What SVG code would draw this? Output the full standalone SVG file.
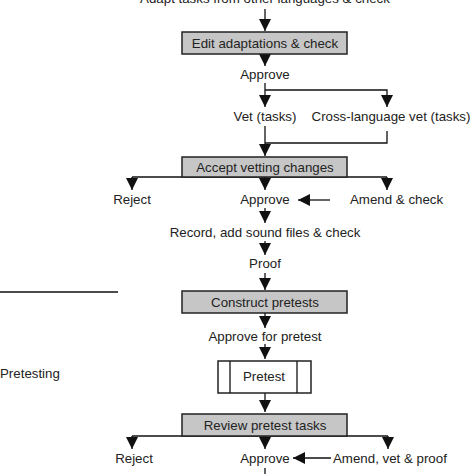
<svg xmlns="http://www.w3.org/2000/svg" width="474" height="474" viewBox="0 0 474 474">
<defs>
<marker id="ah" markerUnits="userSpaceOnUse" markerWidth="12" markerHeight="12" viewBox="0 0 12 12" refX="12" refY="6" orient="auto">
<path d="M0,0 L12,6 L0,12 z" fill="#111"/>
</marker>
</defs>
<style>
text{font-family:"Liberation Sans",Arial,sans-serif;font-size:13.3px;fill:#222}
.c{text-anchor:middle}
.box{fill:#c6c6c6;stroke:#222;stroke-width:1.5}
.wbox{fill:#fff;stroke:#222;stroke-width:1.5}
.ln{fill:none;stroke:#111;stroke-width:1.3}
.ar{fill:none;stroke:#111;stroke-width:1.3;marker-end:url(#ah)}
</style>
<rect width="474" height="474" fill="#fff"/>
<g id="connectors">
<line class="ar" x1="265" y1="9" x2="265" y2="31"/>
<line class="ar" x1="265" y1="54" x2="265" y2="66"/>
<line class="ar" x1="265" y1="83" x2="265" y2="107"/>
<path class="ar" d="M265,90 H387 V107"/>
<path class="ln" d="M387,131 V143 H265"/>
<line class="ar" x1="265" y1="126" x2="265" y2="156"/>
<path class="ln" d="M132,177 H387"/>
<line class="ar" x1="132" y1="177" x2="132" y2="190"/>
<line class="ar" x1="265" y1="177" x2="265" y2="190"/>
<line class="ar" x1="387" y1="177" x2="387" y2="190"/>
<line class="ar" x1="330" y1="200" x2="298" y2="200"/>
<line class="ar" x1="265" y1="208" x2="265" y2="223"/>
<line class="ar" x1="265" y1="241" x2="265" y2="255"/>
<line class="ar" x1="265" y1="273" x2="265" y2="290"/>
<line class="ln" x1="0" y1="292" x2="118" y2="292"/>
<line class="ar" x1="265" y1="313" x2="265" y2="328"/>
<line class="ar" x1="265" y1="344" x2="265" y2="359"/>
<line class="ar" x1="265" y1="393" x2="265" y2="412"/>
<path class="ln" d="M132,436 H388"/>
<line class="ar" x1="132" y1="436" x2="132" y2="449"/>
<line class="ar" x1="265" y1="436" x2="265" y2="449"/>
<line class="ar" x1="388" y1="436" x2="388" y2="449"/>
<line class="ar" x1="331" y1="458" x2="293" y2="458"/>
<line class="ln" x1="265" y1="468" x2="265" y2="474"/>
</g>
<g id="n-adapt"><text class="c" x="265" y="3">Adapt tasks from other languages &amp; check</text></g>
<g id="n-edit"><rect class="box" x="182" y="32" width="165" height="22"/><text class="c" x="265" y="48">Edit adaptations &amp; check</text></g>
<g id="n-approve1"><text class="c" x="265" y="79">Approve</text></g>
<g id="n-vet"><text class="c" x="265" y="121">Vet (tasks)</text></g>
<g id="n-crossvet"><text class="c" x="391" y="121">Cross-language vet (tasks)</text></g>
<g id="n-accept"><rect class="box" x="182" y="157" width="165" height="20"/><text class="c" x="265" y="172">Accept vetting changes</text></g>
<g id="n-reject1"><text class="c" x="132" y="204">Reject</text></g>
<g id="n-approve2"><text class="c" x="265" y="204">Approve</text></g>
<g id="n-amend1"><text x="350" y="204">Amend &amp; check</text></g>
<g id="n-record"><text class="c" x="265" y="237">Record, add sound files &amp; check</text></g>
<g id="n-proof"><text class="c" x="265" y="268">Proof</text></g>
<g id="n-construct"><rect class="box" x="182" y="291" width="165" height="22"/><text class="c" x="265" y="307">Construct pretests</text></g>
<g id="n-approvepre"><text class="c" x="265" y="341">Approve for pretest</text></g>
<g id="n-pretest"><rect class="wbox" x="218" y="361" width="93" height="32"/><line class="ln" x1="230" y1="361" x2="230" y2="393"/><line class="ln" x1="297" y1="361" x2="297" y2="393"/><text class="c" x="264" y="381">Pretest</text></g>
<g id="n-review"><rect class="box" x="182" y="414" width="165" height="22"/><text class="c" x="265" y="430">Review pretest tasks</text></g>
<g id="n-reject2"><text class="c" x="134" y="463">Reject</text></g>
<g id="n-approve3"><text class="c" x="265" y="463">Approve</text></g>
<g id="n-amend2"><text x="333" y="463">Amend, vet &amp; proof</text></g>
<g id="n-pretesting"><text x="0" y="378">Pretesting</text></g>
</svg>
